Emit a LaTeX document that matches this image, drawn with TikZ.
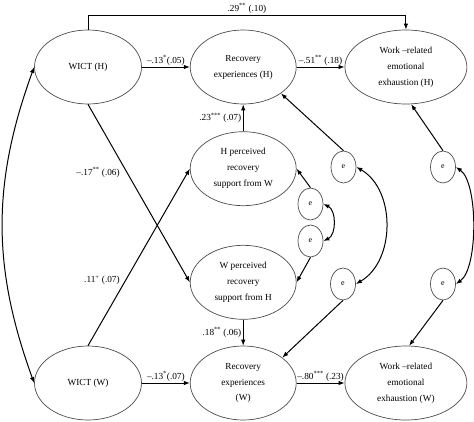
\documentclass[tikz,border=0pt]{standalone}
\usepackage{fontspec}
\setmainfont{Liberation Serif}
\usetikzlibrary{shapes.geometric,arrows.meta,positioning,calc}

\begin{document}
\begin{tikzpicture}[x=1bp, y=1bp,
    latent/.style={ellipse, draw=black!70, line width=0.7bp, minimum width=106bp, minimum height=74bp, inner sep=0pt, align=center, font=\fontsize{9.3}{16}\selectfont},
    err/.style={ellipse, draw=black!70, line width=0.7bp, minimum width=25bp, minimum height=32bp, inner sep=0pt, font=\fontsize{8}{9}\selectfont},
    link/.style={-{Latex[length=6bp,width=4.5bp]}, line width=1bp},
    covar/.style={{Latex[length=6bp,width=4.5bp]}-{Latex[length=6bp,width=4.5bp]}, line width=1bp},
    coef/.style={font=\fontsize{9.3}{10}\selectfont, inner sep=1.5bp}]
    \useasboundingbox (0,0) rectangle (474,421);

    % Top row (H)
    \node [latent, minimum width=107bp] (wicth) at (88,354) {WICT (H)};
    \node [latent, right=48bp of wicth] (rech) {Recovery\\experiences (H)};
    \node [latent, minimum width=122bp, right=48bp of rech] (exh) {Work –related\\emotional\\exhaustion (H)};

    % Bottom row (W)
    \node [latent, minimum width=107bp] (wictw) at (88,38) {WICT (W)};
    \node [latent, right=48bp of wictw] (recw) {Recovery\\experiences\\(W)};
    \node [latent, minimum width=122bp, right=48bp of recw] (exw) {Work –related\\emotional\\exhaustion (W)};

    % Perceived support
    \node [latent, below=27bp of rech] (perh) {H perceived\\recovery\\support from W};
    \node [latent, above=26bp of recw] (perw) {W perceived\\recovery\\support from H};

    % Error terms
    \node [err] (erech) at (343.5,254) {e};
    \node [err] (eexh) at (443,254) {e};
    \node [err] (eperh) at (310.5,217) {e};
    \node [err] (eperw) at (310.5,180) {e};
    \node [err] (erecw) at (343,137) {e};
    \node [err] (eexw) at (443,137) {e};

    % Paths
    \draw [link] (wicth) -- node[coef, above] {–.13\textsuperscript{*}(.05)} (rech);
    \draw [link] (rech) -- node[coef, above] {–.51\textsuperscript{**} (.18)} (exh);
    \draw [link] (wictw) -- node[coef, above] {–.13\textsuperscript{*}(.07)} (recw);
    \draw [link] (recw) -- node[coef, above] {–.80\textsuperscript{***} (.23)} (exw);
    \draw [link] (wicth.north) -- ++(0,14) -| node[coef, pos=0.25, above] {.29\textsuperscript{**} (.10)} (exh.north);
    \draw [link] (perh) -- node[coef, left] {.23\textsuperscript{***} (.07)} (rech);
    \draw [link] (perw) -- node[coef, left] {.18\textsuperscript{**} (.06)} (recw);
    \draw [link] (wicth.south) -- node[coef, pos=0.38, left=5bp] {–.17\textsuperscript{**} (.06)} (perw.west);
    \draw [link] (wictw.north) -- node[coef, pos=0.37, left=4bp] {.11\textsuperscript{+} (.07)} (perh.west);

    % Residuals
    \draw [link] (erech.north) -- (rech.-35);
    \draw [link] (eexh.north) -- (exh.-82);
    \draw [link] (eperh.north) -- (perh.east);
    \draw [link] (eperw.south) -- (perw.east);
    \draw [link] (erecw.south) -- (recw.33);
    \draw [link] (eexw.south) -- (exw.85);

    % Covariances
    \draw [covar] (wicth.west) to[out=250, in=110] (wictw.west);
    \draw [covar] (eperh.east) to[out=-25, in=25] (eperw.east);
    \draw [covar] (erech.east) to[out=-30, in=30] (erecw.east);
    \draw [covar] (eexh.east) to[out=-35, in=35, looseness=0.6] (eexw.east);
\end{tikzpicture}
\end{document}
